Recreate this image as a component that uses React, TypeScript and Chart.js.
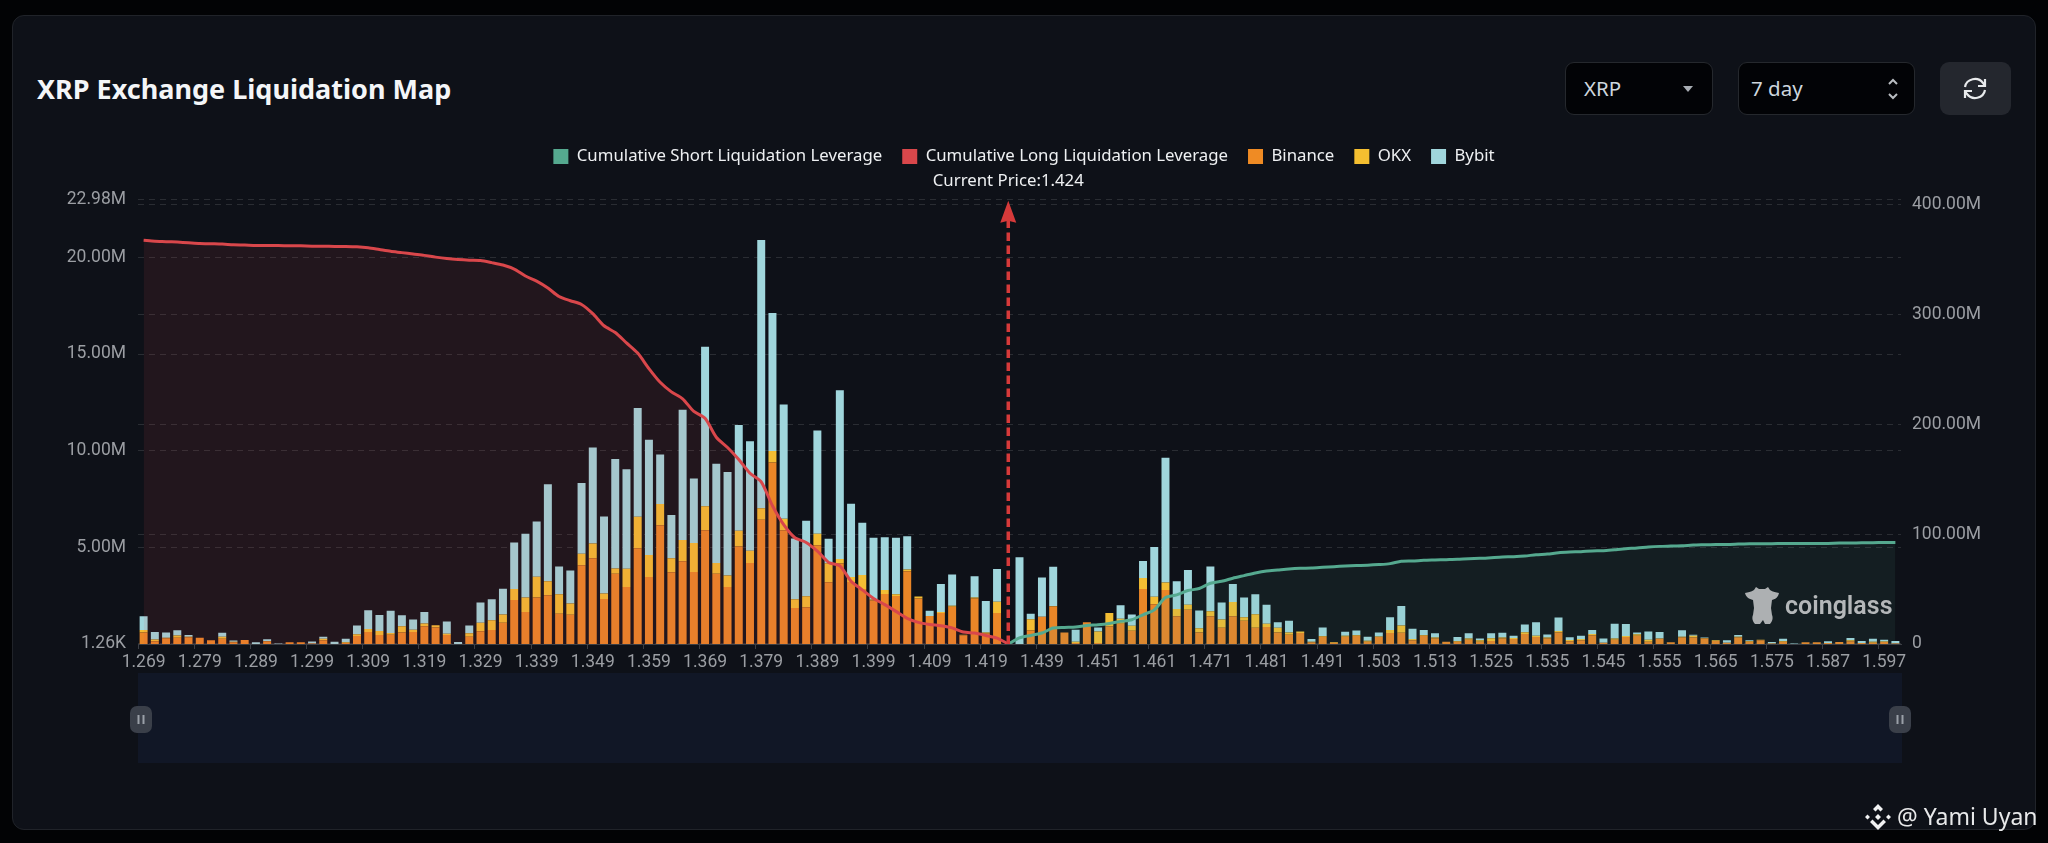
import React, { useEffect, useRef } from "react";
import Chart from "chart.js/auto";

const BAR_COUNT = 157;
const CURRENT_INDEX = 77;
const CURRENT_PRICE = "1.424";

const priceTicks = [
  "1.269", "1.279", "1.289", "1.299", "1.309", "1.319", "1.329", "1.339", "1.349", "1.359", "1.369",
  "1.379", "1.389", "1.399", "1.409", "1.419", "1.439", "1.451", "1.461", "1.471", "1.481", "1.491",
  "1.503", "1.513", "1.525", "1.535", "1.545", "1.555", "1.565", "1.575", "1.587", "1.597",
];

// values in millions, one per price bucket
const binance = [
  0.59, 0.14, 0.3, 0.32, 0.35, 0.32, 0.2, 0.27, 0.09, 0.21, 0, 0.14, 0, 0.09, 0.09, 0.03, 0.2, 0, 0.05, 0.41,
  0.62, 0.46, 0.48, 0.6, 0.62, 0.92, 0.85, 0.46, 0, 0.37, 0.66, 0.73, 1.1, 2.27, 1.65, 2.4, 2.52, 1.56, 1.51, 4.08,
  4.44, 2.33, 3.64, 2.95, 4.95, 3.46, 6.14, 3.71, 4.28, 3.73, 5.89, 3.64, 2.95, 5.04, 4.19, 6.43, 9.39, 5.88, 1.86, 1.9,
  5.11, 3.2, 4.17, 3.21, 2.84, 2.25, 2.59, 2.48, 3.76, 2.36, 1.45, 1.61, 1.93, 0.44, 2.36, 0.55, 1.6, 0, 0, 0.7,
  1.41, 1.94, 0.6, 0.05, 1.12, 0.05, 0.91, 1.05, 0.69, 2.84, 2.06, 2.8, 1.43, 1.77, 0.6, 1.43, 0.84, 1.43, 1.2, 0.84,
  0.88, 0.6, 0.48, 0.57, 0.09, 0.38, 0.07, 0.38, 0.43, 0.12, 0.36, 0.57, 0.58, 0.19, 0.43, 0.29, 0.12, 0.12, 0.22, 0.12,
  0.15, 0.29, 0.26, 0.52, 0.36, 0.29, 0.6, 0.14, 0.19, 0.45, 0.07, 0.22, 0.36, 0.43, 0.12, 0.27, 0.09, 0.33, 0.34, 0.29,
  0.15, 0.07, 0.33, 0.12, 0.19, 0.02, 0.12, 0, 0.09, 0.09, 0.05, 0.1, 0.14, 0.05, 0.07, 0.1, 0.03,
];
const okx = [
  0.14, 0.09, 0.02, 0.12, 0.02, 0, 0, 0.1, 0.02, 0, 0, 0.02, 0, 0, 0, 0, 0.07, 0, 0.04, 0.09,
  0.16, 0.21, 0.09, 0.32, 0.12, 0.14, 0.12, 0.07, 0, 0.18, 0.44, 0.5, 0.43, 0.57, 0.75, 1.08, 0.73, 1.01, 0.59, 0.59,
  0.76, 0.28, 0.27, 0.94, 1.63, 1.15, 1.1, 0.73, 1.1, 1.49, 1.24, 0.55, 0.59, 0.82, 0.64, 0.59, 0.6, 0.6, 0.46, 0.57,
  0.59, 0.98, 0.23, 0.25, 0.73, 0.05, 0.2, 0.09, 0.09, 0.1, 0, 0.04, 0.05, 0.04, 0.04, 0.04, 0.59, 0, 0, 0.58,
  0, 0.02, 0, 0.07, 0, 0.6, 0.69, 0.26, 0.26, 0.57, 0.38, 0.38, 0.38, 0.26, 0.22, 0.26, 0.43, 0.74, 0.19, 0.7,
  0.17, 0.24, 0.12, 0.08, 0.03, 0.03, 0.03, 0.05, 0.03, 0.05, 0.03, 0.15, 0.38, 0.07, 0.03, 0.05, 0, 0.03, 0.07, 0.07,
  0.15, 0.05, 0.05, 0.09, 0.07, 0.05, 0.07, 0.07, 0.07, 0.07, 0, 0.07, 0.05, 0.07, 0.1, 0.02, 0, 0.05, 0.09, 0.02,
  0.05, 0, 0.05, 0.03, 0.03, 0, 0.03, 0, 0, 0, 0, 0, 0.05, 0, 0.05, 0.03, 0,
];
const bybit = [
  0.71, 0.39, 0.27, 0.27, 0.09, 0, 0, 0.21, 0.07, 0, 0.09, 0.09, 0.02, 0, 0, 0.1, 0.1, 0.12, 0.18, 0.46,
  0.96, 0.83, 1.15, 0.57, 0.53, 0.6, 0, 0.64, 0.1, 0.41, 1.05, 1.08, 1.33, 2.41, 3.3, 2.86, 5.02, 1.44, 1.7, 3.66,
  4.97, 3.98, 5.66, 5.15, 5.63, 5.96, 2.56, 2.24, 6.74, 3.34, 8.25, 5.13, 5.36, 5.47, 5.66, 13.88, 7.14, 5.91, 3.14, 3.91,
  5.34, 1.26, 8.73, 3.8, 2.7, 3.2, 2.73, 2.93, 1.72, 0, 0.27, 1.46, 1.62, 0, 1.1, 1.63, 1.69, 0, 4.49, 0.29,
  2.03, 2.04, 0, 0.62, 0, 0.21, 0, 0.7, 0.58, 0.88, 2.58, 6.46, 1.44, 1.8, 0.91, 2.32, 0.88, 0.93, 1.01, 1.03,
  0.98, 0.29, 0.6, 0, 0.14, 0.45, 0, 0.21, 0.24, 0.21, 0.21, 0.67, 1.0, 0.53, 0.26, 0.21, 0, 0.21, 0.26, 0.1,
  0.26, 0.24, 0.12, 0.4, 0.7, 0.15, 0.7, 0.14, 0.17, 0.21, 0.21, 0.76, 0.62, 0.1, 0.43, 0.33, 0, 0.33, 0.05, 0.03,
  0, 0.12, 0.09, 0.05, 0, 0.08, 0.12, 0.03, 0, 0, 0.09, 0, 0.12, 0.1, 0.15, 0.09, 0.12,
];

// cumulative leverage, millions on the right axis
const longLeverage = [
  367.6, 366.7, 366.4, 366, 365.4, 364.8, 364.5, 364.2, 363.6, 363.3, 362.9, 362.9, 362.9, 362.6, 362.6, 362.3, 362.3, 362, 362, 361.7,
  360.8, 359.2, 357.6, 356.4, 355.1, 353.9, 352.3, 351, 350.1, 349.5, 349.2, 347.3, 345.1, 341.4, 335.1, 330.5, 324.2, 316.4, 312.6, 309.2,
  300.8, 289.8, 283.6, 274.2, 264.9, 250.8, 238.3, 229.6, 223.3, 211.8, 205.5, 188.3, 178.9, 168, 155.5, 147.7, 125.9, 108.7, 96.8, 92.5,
  84.6, 74.3, 71.2, 57.2, 49.3, 41.5, 35.9, 29.7, 23.4, 19.7, 17.8, 16.6, 14.7, 10.9, 10, 7.8, 5.3, 0,
];
const shortLeverage = [
  0, 5.6, 7.8, 10, 14.5, 15.1, 15.4, 16.9, 17.5, 18.7, 20.6, 22.1, 26.6, 31.1, 42.3, 44.7, 48.7, 50.5, 55.3, 57.1,
  59.9, 62.3, 64.7, 66.5, 67.4, 68.3, 68.9, 69.2, 69.8, 70.4, 71, 71.4, 71.7, 72.3, 73.2, 75.3, 75.6, 76.2, 76.5, 76.8,
  77.1, 77.7, 78, 78.6, 79.2, 79.5, 80.1, 81.3, 81.9, 83.1, 83.7, 84.1, 84.7, 85, 85.9, 86.8, 87.4, 88.3, 88.9, 89.2,
  89.5, 90.1, 90.4, 90.7, 90.7, 91, 91.3, 91.3, 91.3, 91.6, 91.6, 91.6, 91.6, 91.6, 91.9, 91.9, 92.2, 92.2, 92.5, 92.5,
];

const leftTicks = [0.00126, 5, 10, 15, 20, 22.98];
const rightTicks = [0, 100, 200, 300, 400];

const categories = Array.from({ length: BAR_COUNT }, (_, i) => {
  if (i === CURRENT_INDEX) return CURRENT_PRICE;
  return i % 5 === 0 ? priceTicks[i / 5] : "";
});

const GREEN = "#55a98f";
const RED = "#d9474b";
const ORANGE = "#ea8627";
const YELLOW = "#f3bd33";
const BLUE = "#a0d6dc";
const GRID = "#2a2d33";
const FONT = '"Noto Sans", sans-serif';
const AXIS_FONT = "Roboto, sans-serif";

// legend squares use the solid colour, not the translucent area fill
const legendColors = [GREEN, RED, "#ef8b24", "#f5bf30", BLUE];

const formatLeft = (v: number) => (v < 1 ? (v * 1000).toFixed(2) + "K" : v.toFixed(2) + "M");

// arrow and label for the current price, on the price scale
const currentPricePlugin = {
  id: "currentPrice",
  beforeLayout(chart: any) {
    const legend = chart.legend;
    const fit = legend.fit;
    legend.fit = function () {
      fit.call(this);
      this.height += 25;
    };
  },
  afterDatasetsDraw(chart: any) {
    const { ctx, chartArea, scales } = chart;
    const x = scales.x.getPixelForValue(CURRENT_INDEX);
    ctx.save();
    ctx.strokeStyle = "#d63a3a";
    ctx.fillStyle = "#d63a3a";
    ctx.lineWidth = 3.5;
    ctx.setLineDash([8.5, 4.5]);
    ctx.beginPath();
    ctx.moveTo(x, chartArea.bottom);
    ctx.lineTo(x, chartArea.top + 18);
    ctx.stroke();
    ctx.setLineDash([]);
    ctx.beginPath();
    ctx.moveTo(x, chartArea.top + 1);
    ctx.lineTo(x + 8, chartArea.top + 23);
    ctx.lineTo(x, chartArea.top + 21);
    ctx.lineTo(x - 8, chartArea.top + 23);
    ctx.closePath();
    ctx.fill();
    ctx.fillStyle = "#eef0f2";
    ctx.font = "16.8px " + FONT;
    ctx.textAlign = "center";
    ctx.textBaseline = "middle";
    ctx.fillText("Current Price:" + CURRENT_PRICE, x, 181);
    ctx.restore();
  },
};

function Select({ label, left, width, children }: any) {
  return (
    <div
      style={{
        position: "absolute",
        left,
        top: 62,
        width,
        height: 53,
        boxSizing: "border-box",
        background: "#020306",
        border: "1px solid #25282d",
        borderRadius: 9,
        color: "#cdd6de",
        font: "20.5px " + FONT,
        lineHeight: "50px",
      }}
    >
      <span style={{ position: "absolute", left: left > 1700 ? 12 : 18 }}>{label}</span>
      {children}
    </div>
  );
}

function Handle({ left }: { left: number }) {
  return (
    <svg style={{ position: "absolute", left, top: 706 }} width="22" height="27">
      <rect width="22" height="27" rx="7" fill="#3a3f49" />
      <path d="M8.500 9v9M13.500 9v9" stroke="#9aa0a8" strokeWidth="2" />
    </svg>
  );
}

export default function App() {
  const canvasRef = useRef<HTMLCanvasElement | null>(null);

  useEffect(() => {
    const ctx = canvasRef.current?.getContext("2d");
    if (!ctx) return;

    const chart = new Chart(ctx, {
      type: "bar",
      data: {
        labels: categories,
        datasets: [
          {
            type: "line",
            label: "Cumulative Short Liquidation Leverage",
            data: [...Array(CURRENT_INDEX).fill(null), ...shortLeverage],
            yAxisID: "right",
            borderColor: GREEN,
            backgroundColor: "rgba(85,169,143,0.09)",
            borderWidth: 3,
            pointRadius: 0,
            tension: 0.25,
            fill: "origin",
            order: 1,
          },
          {
            type: "line",
            label: "Cumulative Long Liquidation Leverage",
            data: longLeverage,
            yAxisID: "right",
            borderColor: RED,
            backgroundColor: "rgba(217,71,75,0.1)",
            borderWidth: 3,
            pointRadius: 0,
            tension: 0.25,
            fill: "origin",
            order: 1,
          },
          { label: "Binance", data: binance, backgroundColor: ORANGE, yAxisID: "y", order: 2 },
          { label: "OKX", data: okx, backgroundColor: YELLOW, yAxisID: "y", order: 2 },
          { label: "Bybit", data: bybit, backgroundColor: BLUE, yAxisID: "y", order: 2 },
        ],
      } as any,
      options: {
        responsive: false,
        animation: false,
        layout: { padding: { top: 128 } },
        datasets: { bar: { barPercentage: 0.71, categoryPercentage: 1 } },
        plugins: {
          tooltip: { enabled: false },
          legend: {
            position: "top",
            labels: {
              color: "#eef0f2",
              boxWidth: 15,
              boxHeight: 15,
              padding: 20,
              font: { family: FONT, size: 16.8 },
              generateLabels: (c: any) =>
                Chart.defaults.plugins.legend.labels.generateLabels(c).map((item: any, i: number) => ({
                  ...item,
                  fillStyle: legendColors[i],
                  strokeStyle: legendColors[i],
                  lineWidth: 0,
                })),
            },
          },
        },
        scales: {
          x: {
            stacked: true,
            afterFit: (scale: any) => {
              scale.height = 199;
            },
            border: { display: true, color: "#3b3e44" },
            grid: {
              offset: true,
              drawOnChartArea: false,
              tickLength: 5,
              tickColor: (c: any) => (c.index % 5 === 0 ? "#3b3e44" : "transparent"),
            },
            ticks: {
              autoSkip: false,
              maxRotation: 0,
              minRotation: 0,
              color: "#9b9ea3",
              padding: 3,
              font: { family: AXIS_FONT, size: 17.5 },
              callback: (_v: any, i: number) => (i % 5 === 0 ? priceTicks[i / 5] : ""),
            },
          },
          y: {
            stacked: true,
            position: "left",
            min: 0,
            max: 22.98,
            afterBuildTicks: (scale: any) => {
              scale.ticks = leftTicks.map((value) => ({ value }));
            },
            afterFit: (scale: any) => {
              scale.width = 138;
            },
            border: { display: false, dash: [6, 5] },
            grid: { color: GRID, drawTicks: false },
            ticks: {
              color: "#9b9ea3",
              padding: 12,
              font: { family: AXIS_FONT, size: 17.5 },
              callback: (v: any) => formatLeft(Number(v)),
            },
          },
          right: {
            position: "right",
            min: 0,
            max: 404.5,
            afterBuildTicks: (scale: any) => {
              scale.ticks = rightTicks.map((value) => ({ value }));
            },
            afterFit: (scale: any) => {
              scale.width = 147;
            },
            border: { display: false, dash: [6, 5] },
            grid: { color: GRID, drawTicks: false },
            ticks: {
              color: "#9b9ea3",
              padding: 11,
              font: { family: AXIS_FONT, size: 17.5 },
              callback: (v: any) => (Number(v) === 0 ? "0" : Number(v).toFixed(2) + "M"),
            },
          },
        },
      },
      plugins: [currentPricePlugin],
    } as any);

    return () => {
      chart.destroy();
    };
  }, []);

  return (
    <div style={{ position: "fixed", inset: 0, overflow: "hidden", background: "#020305" }}>
      <div
        style={{
          position: "absolute",
          left: 12,
          top: 15,
          width: 2024,
          height: 815,
          boxSizing: "border-box",
          background: "#0e1118",
          border: "1px solid #202329",
          borderRadius: 12,
        }}
      />
      <div
        style={{
          position: "absolute",
          left: 37,
          top: 67,
          color: "#f4f6f8",
          font: "700 27px " + FONT,
          lineHeight: "44px",
          whiteSpace: "nowrap",
        }}
      >
        XRP Exchange Liquidation Map
      </div>

      <Select label="XRP" left={1565} width={148}>
        <svg style={{ position: "absolute", left: 116, top: 22 }} width="12" height="8">
          <path d="M1 1h10l-5 6z" fill="#a8adb3" />
        </svg>
      </Select>
      <Select label="7 day" left={1738} width={177}>
        <svg style={{ position: "absolute", left: 148, top: 15 }} width="12" height="22" fill="none" stroke="#b9bdc2" strokeWidth="2">
          <path d="M2 6l4-4 4 4M2 16l4 4 4-4" />
        </svg>
      </Select>
      <div
        style={{
          position: "absolute",
          left: 1940,
          top: 62,
          width: 71,
          height: 53,
          borderRadius: 9,
          background: "#24272e",
        }}
      >
        <svg style={{ position: "absolute", left: 22, top: 14 }} width="26" height="25" viewBox="0 0 26 25" fill="none" stroke="#e8eaec" strokeWidth="2.2">
          <path d="M3 11a10 9.500 0 0 1 18-4l2 3" />
          <path d="M23 3v7h-7" />
          <path d="M23 14a10 9.500 0 0 1-18 4l-2-3" />
          <path d="M3 22v-7h7" />
        </svg>
      </div>

      <div
        style={{
          position: "absolute",
          left: 138,
          top: 673,
          width: 1764,
          height: 90,
          background: "#111726",
        }}
      />

      <canvas ref={canvasRef} width={2048} height={843} style={{ position: "absolute", left: 0, top: 0 }} />

      <Handle left={130} />
      <Handle left={1889} />

      {/* coinglass mark */}
      <svg style={{ position: "absolute", left: 1743, top: 585 }} width="38" height="42" viewBox="0 0 38 42" fill="#adb0b2">
        <path d="M2 8c3-1 6-1 9-3l2-3 3 2h6l3-2 2 3c3 2 6 2 9 3-1 4-3 6-7 7l-1 8 1 7c1 2 1 6-2 9h-5l-2-4-3 4h-5c-3-3-3-7-2-9l1-7-1-8c-4-1-7-3-8-7z" />
      </svg>
      <div
        style={{
          position: "absolute",
          left: 1785,
          top: 586,
          color: "#b4b7b9",
          font: "600 25px " + AXIS_FONT,
          lineHeight: "40px",
        }}
      >
        coinglass
      </div>

      {/* source watermark */}
      <svg style={{ position: "absolute", left: 1864, top: 803 }} width="28" height="28" viewBox="0 0 28 28" fill="#f1f2f3">
        <path d="M14 1l5 5-2.500 2.500L14 6l-2.500 2.500L9 6zM1 14l2.500-2.500L6 14l-2.500 2.500zM22 14l2.500-2.500L27 14l-2.500 2.500zM14 11l3 3-3 3-3-3zM6 19l2.500-2.500L14 22l5.500-5.500L22 19l-8 8z" />
      </svg>
      <div
        style={{
          position: "absolute",
          left: 1897,
          top: 799,
          color: "#e8e9ea",
          font: "23px " + FONT,
          lineHeight: "34px",
          whiteSpace: "nowrap",
        }}
      >
        @ Yami Uyan
      </div>
    </div>
  );
}
